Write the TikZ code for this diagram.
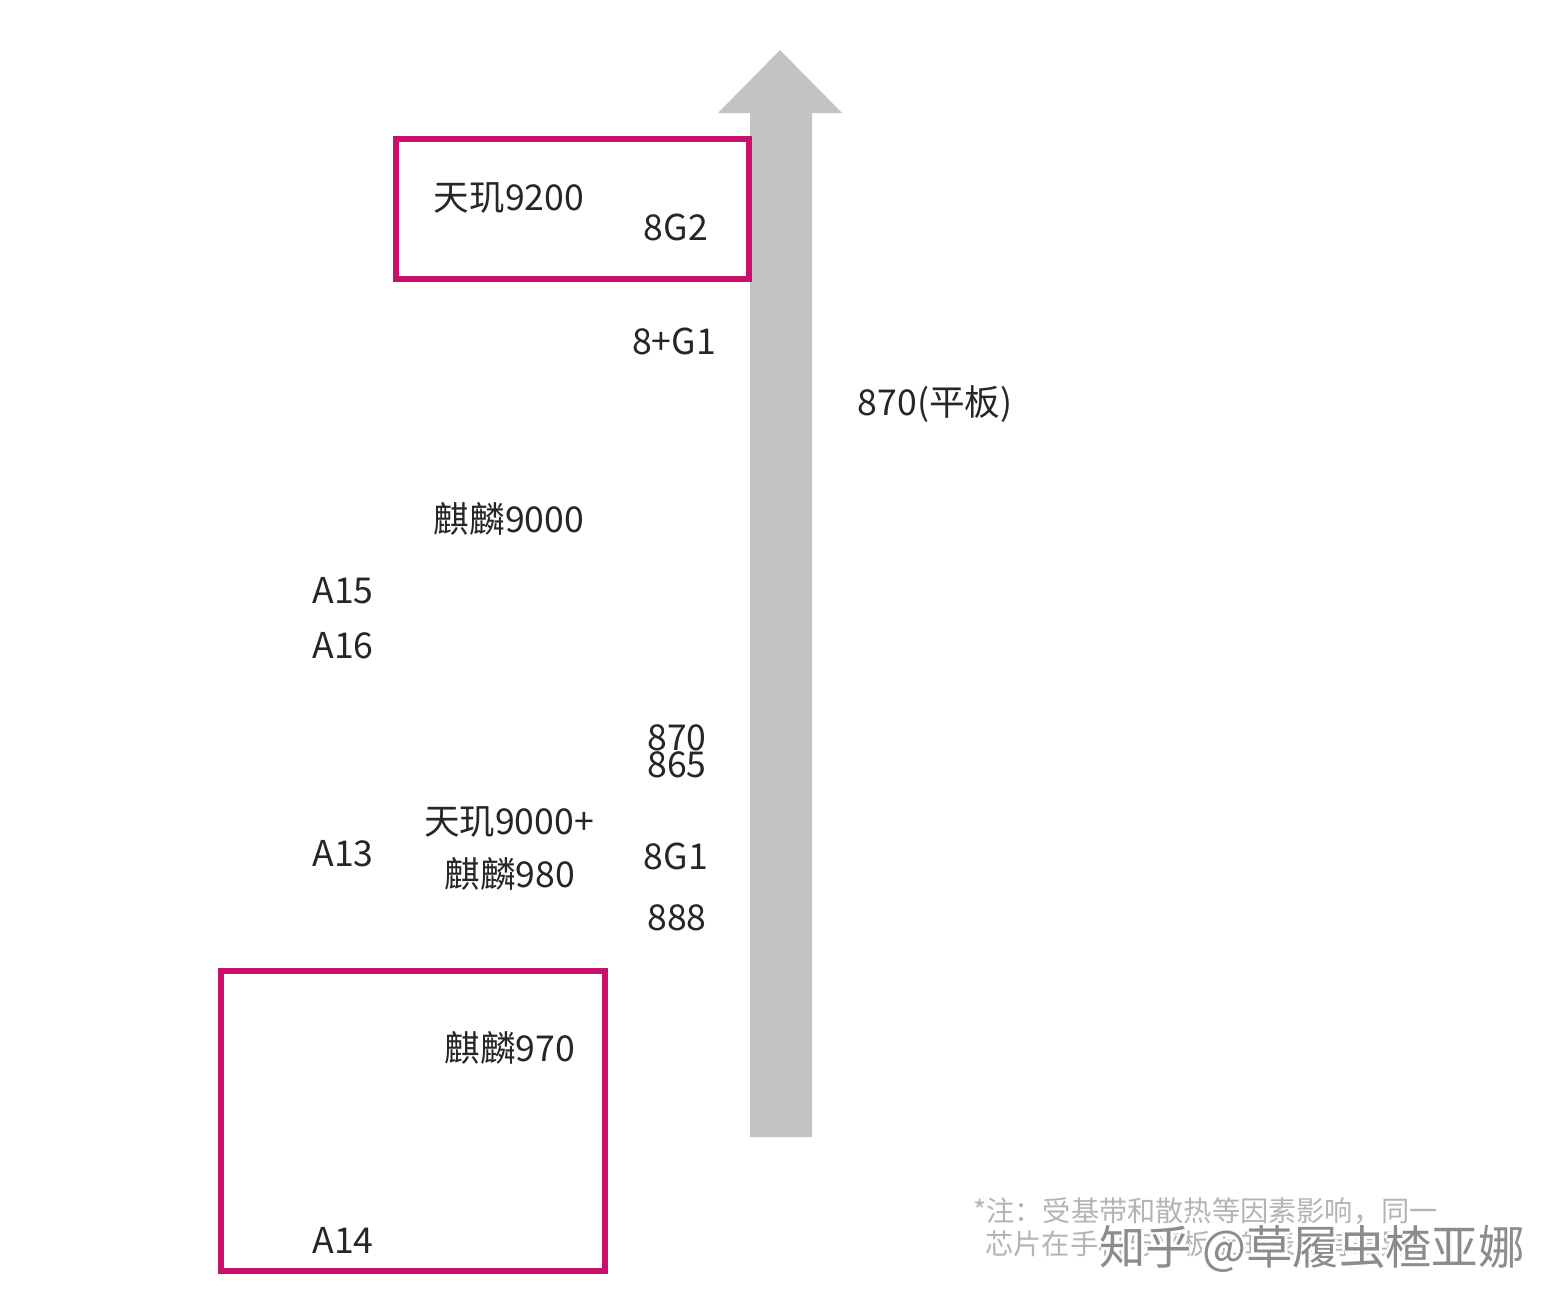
\documentclass[tikz,border=0pt]{standalone}
\usepackage{fontspec}
\setmainfont{Noto Sans CJK SC}
\definecolor{pinkbox}{HTML}{C8106A}
\definecolor{arrowgray}{HTML}{C3C3C3}
\definecolor{notegray}{HTML}{B4B4B4}
\definecolor{wmgray}{HTML}{8C8C8C}
\begin{document}
\begin{tikzpicture}[x=0.5pt,y=-0.5pt,
  chip/.style={inner sep=0pt,font=\fontsize{17.8pt}{19pt}\selectfont,text=black!85},
  hlbox/.style={draw=pinkbox,line width=3pt},
  note/.style={inner sep=0pt,anchor=west,font=\fontsize{14.1pt}{15pt}\selectfont,text=notegray},
  wm/.style={inner sep=0pt,font=\fontsize{23.2pt}{24pt}\selectfont,text=wmgray},
  wmhalo/.style={inner sep=0pt,font=\fontsize{23.2pt}{24pt}\selectfont,text=white}]
\useasboundingbox[fill=white] (0,0) rectangle (1565,1314);
% arrow
\fill[arrowgray] (750,1137) -- (750,113) -- (718,113) -- (780,50) -- (842,113) -- (812,113) -- (812,1137) -- cycle;
% boxes
\draw[hlbox] (396,139) rectangle (749,279);
\draw[hlbox] (221,971) rectangle (605,1271);
% chips
\node[chip] (tj9200) at (509,198) {天玑9200};
\node[chip] (g82) at (676,227) {8G2};
\node[chip] (g81p) at (674,341) {8+G1};
\node[chip] (s870pad) at (935,404) {870(平板)};
\node[chip] (k9000) at (509,519) {麒麟9000};
\node[chip] (a15) at (343,591) {A15};
\node[chip] (a16) at (343,646) {A16};
\node[chip] (s870) at (677,738) {870};
\node[chip] (s865) at (677,765) {865};
\node[chip] (tj9000p) at (509,822) {天玑9000+};
\node[chip] (k980) at (510,874) {麒麟980};
\node[chip] (a13) at (343,854) {A13};
\node[chip] (g81) at (676,856) {8G1};
\node[chip] (s888) at (677,918) {888};
\node[chip] (k970) at (510,1048) {麒麟970};
\node[chip] (a14) at (343,1240) {A14};
% note
\node[note] (note1) at (973,1211) {*注：受基带和散热等因素影响，同一};
\node[note] (note2) at (985,1244) {芯片在手机与平板上的表现有差异};
% watermark (white halo then grey text)
\foreach \dx/\dy in {-3/0,3/0,0/-3,0/3}
  \node[wmhalo] at (1312+\dx,1249+\dy) {知乎 @草履虫楂亚娜};
\node[wm] (wm) at (1312,1249) {知乎 @草履虫楂亚娜};
\end{tikzpicture}
\end{document}
